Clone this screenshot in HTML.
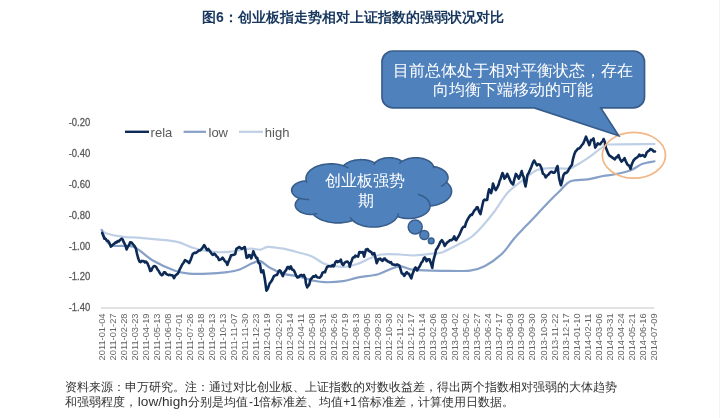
<!DOCTYPE html>
<html><head><meta charset="utf-8"><style>
html,body{margin:0;padding:0;background:#fff;width:720px;height:418px;overflow:hidden}
svg{display:block;will-change:transform;opacity:0.999}
text{font-family:"Liberation Sans", sans-serif}
</style></head><body>
<svg width="720" height="418" viewBox="0 0 720 418">
<rect width="720" height="418" fill="#fff"/>
<rect x="719" y="0" width="1" height="418" fill="#f4f4f4"/>

<text x="353" y="22" text-anchor="middle" font-size="14" font-weight="bold" fill="#17375e">图6：创业板指走势相对上证指数的强弱状况对比</text>
<g font-size="9.5" fill="#595959"><text transform="translate(90.3,126.1) scale(1,1.12)" text-anchor="end" stroke="#595959" stroke-width="0.25">-0.20</text><text transform="translate(90.3,157.0) scale(1,1.12)" text-anchor="end" stroke="#595959" stroke-width="0.25">-0.40</text><text transform="translate(90.3,187.8) scale(1,1.12)" text-anchor="end" stroke="#595959" stroke-width="0.25">-0.60</text><text transform="translate(90.3,218.7) scale(1,1.12)" text-anchor="end" stroke="#595959" stroke-width="0.25">-0.80</text><text transform="translate(90.3,249.5) scale(1,1.12)" text-anchor="end" stroke="#595959" stroke-width="0.25">-1.00</text><text transform="translate(90.3,280.4) scale(1,1.12)" text-anchor="end" stroke="#595959" stroke-width="0.25">-1.20</text><text transform="translate(90.3,311.2) scale(1,1.12)" text-anchor="end" stroke="#595959" stroke-width="0.25">-1.40</text></g>
<line x1="101" y1="308" x2="654.5" y2="308" stroke="#d9d9d9" stroke-width="1.5"/>
<g font-size="9" fill="#656565"><text transform="translate(101.7,313.5) rotate(-90)" x="0" y="3.1" text-anchor="end" textLength="47" lengthAdjust="spacingAndGlyphs">2011-01-04</text><text transform="translate(112.7,313.5) rotate(-90)" x="0" y="3.1" text-anchor="end" textLength="47" lengthAdjust="spacingAndGlyphs">2011-01-27</text><text transform="translate(123.8,313.5) rotate(-90)" x="0" y="3.1" text-anchor="end" textLength="47" lengthAdjust="spacingAndGlyphs">2011-02-28</text><text transform="translate(134.8,313.5) rotate(-90)" x="0" y="3.1" text-anchor="end" textLength="47" lengthAdjust="spacingAndGlyphs">2011-03-23</text><text transform="translate(145.9,313.5) rotate(-90)" x="0" y="3.1" text-anchor="end" textLength="47" lengthAdjust="spacingAndGlyphs">2011-04-19</text><text transform="translate(156.9,313.5) rotate(-90)" x="0" y="3.1" text-anchor="end" textLength="47" lengthAdjust="spacingAndGlyphs">2011-05-13</text><text transform="translate(168.0,313.5) rotate(-90)" x="0" y="3.1" text-anchor="end" textLength="47" lengthAdjust="spacingAndGlyphs">2011-06-08</text><text transform="translate(179.0,313.5) rotate(-90)" x="0" y="3.1" text-anchor="end" textLength="47" lengthAdjust="spacingAndGlyphs">2011-07-01</text><text transform="translate(190.0,313.5) rotate(-90)" x="0" y="3.1" text-anchor="end" textLength="47" lengthAdjust="spacingAndGlyphs">2011-07-26</text><text transform="translate(201.1,313.5) rotate(-90)" x="0" y="3.1" text-anchor="end" textLength="47" lengthAdjust="spacingAndGlyphs">2011-08-18</text><text transform="translate(212.1,313.5) rotate(-90)" x="0" y="3.1" text-anchor="end" textLength="47" lengthAdjust="spacingAndGlyphs">2011-09-13</text><text transform="translate(223.2,313.5) rotate(-90)" x="0" y="3.1" text-anchor="end" textLength="47" lengthAdjust="spacingAndGlyphs">2011-10-13</text><text transform="translate(234.2,313.5) rotate(-90)" x="0" y="3.1" text-anchor="end" textLength="47" lengthAdjust="spacingAndGlyphs">2011-11-07</text><text transform="translate(245.2,313.5) rotate(-90)" x="0" y="3.1" text-anchor="end" textLength="47" lengthAdjust="spacingAndGlyphs">2011-11-30</text><text transform="translate(256.3,313.5) rotate(-90)" x="0" y="3.1" text-anchor="end" textLength="47" lengthAdjust="spacingAndGlyphs">2011-12-23</text><text transform="translate(267.3,313.5) rotate(-90)" x="0" y="3.1" text-anchor="end" textLength="47" lengthAdjust="spacingAndGlyphs">2012-01-19</text><text transform="translate(278.4,313.5) rotate(-90)" x="0" y="3.1" text-anchor="end" textLength="47" lengthAdjust="spacingAndGlyphs">2012-02-20</text><text transform="translate(289.4,313.5) rotate(-90)" x="0" y="3.1" text-anchor="end" textLength="47" lengthAdjust="spacingAndGlyphs">2012-03-14</text><text transform="translate(300.5,313.5) rotate(-90)" x="0" y="3.1" text-anchor="end" textLength="47" lengthAdjust="spacingAndGlyphs">2012-04-11</text><text transform="translate(311.5,313.5) rotate(-90)" x="0" y="3.1" text-anchor="end" textLength="47" lengthAdjust="spacingAndGlyphs">2012-05-08</text><text transform="translate(322.5,313.5) rotate(-90)" x="0" y="3.1" text-anchor="end" textLength="47" lengthAdjust="spacingAndGlyphs">2012-05-31</text><text transform="translate(333.6,313.5) rotate(-90)" x="0" y="3.1" text-anchor="end" textLength="47" lengthAdjust="spacingAndGlyphs">2012-06-26</text><text transform="translate(344.6,313.5) rotate(-90)" x="0" y="3.1" text-anchor="end" textLength="47" lengthAdjust="spacingAndGlyphs">2012-07-19</text><text transform="translate(355.7,313.5) rotate(-90)" x="0" y="3.1" text-anchor="end" textLength="47" lengthAdjust="spacingAndGlyphs">2012-08-13</text><text transform="translate(366.7,313.5) rotate(-90)" x="0" y="3.1" text-anchor="end" textLength="47" lengthAdjust="spacingAndGlyphs">2012-09-05</text><text transform="translate(377.7,313.5) rotate(-90)" x="0" y="3.1" text-anchor="end" textLength="47" lengthAdjust="spacingAndGlyphs">2012-09-28</text><text transform="translate(388.8,313.5) rotate(-90)" x="0" y="3.1" text-anchor="end" textLength="47" lengthAdjust="spacingAndGlyphs">2012-10-30</text><text transform="translate(399.8,313.5) rotate(-90)" x="0" y="3.1" text-anchor="end" textLength="47" lengthAdjust="spacingAndGlyphs">2012-11-22</text><text transform="translate(410.9,313.5) rotate(-90)" x="0" y="3.1" text-anchor="end" textLength="47" lengthAdjust="spacingAndGlyphs">2012-12-17</text><text transform="translate(421.9,313.5) rotate(-90)" x="0" y="3.1" text-anchor="end" textLength="47" lengthAdjust="spacingAndGlyphs">2013-01-14</text><text transform="translate(433.0,313.5) rotate(-90)" x="0" y="3.1" text-anchor="end" textLength="47" lengthAdjust="spacingAndGlyphs">2013-02-06</text><text transform="translate(444.0,313.5) rotate(-90)" x="0" y="3.1" text-anchor="end" textLength="47" lengthAdjust="spacingAndGlyphs">2013-03-08</text><text transform="translate(455.0,313.5) rotate(-90)" x="0" y="3.1" text-anchor="end" textLength="47" lengthAdjust="spacingAndGlyphs">2013-04-02</text><text transform="translate(466.1,313.5) rotate(-90)" x="0" y="3.1" text-anchor="end" textLength="47" lengthAdjust="spacingAndGlyphs">2013-05-02</text><text transform="translate(477.1,313.5) rotate(-90)" x="0" y="3.1" text-anchor="end" textLength="47" lengthAdjust="spacingAndGlyphs">2013-05-27</text><text transform="translate(488.2,313.5) rotate(-90)" x="0" y="3.1" text-anchor="end" textLength="47" lengthAdjust="spacingAndGlyphs">2013-06-24</text><text transform="translate(499.2,313.5) rotate(-90)" x="0" y="3.1" text-anchor="end" textLength="47" lengthAdjust="spacingAndGlyphs">2013-07-17</text><text transform="translate(510.3,313.5) rotate(-90)" x="0" y="3.1" text-anchor="end" textLength="47" lengthAdjust="spacingAndGlyphs">2013-08-09</text><text transform="translate(521.3,313.5) rotate(-90)" x="0" y="3.1" text-anchor="end" textLength="47" lengthAdjust="spacingAndGlyphs">2013-09-03</text><text transform="translate(532.3,313.5) rotate(-90)" x="0" y="3.1" text-anchor="end" textLength="47" lengthAdjust="spacingAndGlyphs">2013-09-30</text><text transform="translate(543.4,313.5) rotate(-90)" x="0" y="3.1" text-anchor="end" textLength="47" lengthAdjust="spacingAndGlyphs">2013-10-30</text><text transform="translate(554.4,313.5) rotate(-90)" x="0" y="3.1" text-anchor="end" textLength="47" lengthAdjust="spacingAndGlyphs">2013-11-22</text><text transform="translate(565.5,313.5) rotate(-90)" x="0" y="3.1" text-anchor="end" textLength="47" lengthAdjust="spacingAndGlyphs">2013-12-17</text><text transform="translate(576.5,313.5) rotate(-90)" x="0" y="3.1" text-anchor="end" textLength="47" lengthAdjust="spacingAndGlyphs">2014-01-10</text><text transform="translate(587.5,313.5) rotate(-90)" x="0" y="3.1" text-anchor="end" textLength="47" lengthAdjust="spacingAndGlyphs">2014-02-11</text><text transform="translate(598.6,313.5) rotate(-90)" x="0" y="3.1" text-anchor="end" textLength="47" lengthAdjust="spacingAndGlyphs">2014-03-06</text><text transform="translate(609.6,313.5) rotate(-90)" x="0" y="3.1" text-anchor="end" textLength="47" lengthAdjust="spacingAndGlyphs">2014-03-31</text><text transform="translate(620.7,313.5) rotate(-90)" x="0" y="3.1" text-anchor="end" textLength="47" lengthAdjust="spacingAndGlyphs">2014-04-24</text><text transform="translate(631.7,313.5) rotate(-90)" x="0" y="3.1" text-anchor="end" textLength="47" lengthAdjust="spacingAndGlyphs">2014-05-21</text><text transform="translate(642.8,313.5) rotate(-90)" x="0" y="3.1" text-anchor="end" textLength="47" lengthAdjust="spacingAndGlyphs">2014-06-16</text><text transform="translate(653.8,313.5) rotate(-90)" x="0" y="3.1" text-anchor="end" textLength="47" lengthAdjust="spacingAndGlyphs">2014-07-09</text></g>
<g fill="none" stroke-linejoin="round" stroke-linecap="round">
<path d="M101.7,230.0 C102.4,230.5 102.7,232.1 106.0,233.2 C109.3,234.3 115.7,235.8 121.8,236.6 C127.9,237.4 133.9,237.4 142.8,238.2 C151.7,239.0 166.6,239.8 175.0,241.4 C183.4,243.0 188.1,246.3 193.0,247.8 C197.9,249.3 200.3,249.9 204.4,250.6 C208.5,251.3 213.3,252.0 217.8,252.2 C222.3,252.4 225.8,252.2 231.2,251.6 C236.6,251.0 245.2,249.0 250.0,248.7 C254.8,248.4 257.3,250.0 260.3,249.7 C263.3,249.4 264.2,247.0 268.0,246.8 C271.8,246.6 278.2,247.8 283.3,248.7 C288.4,249.6 293.8,251.2 298.6,252.5 C303.4,253.8 307.6,254.5 312.0,256.4 C316.4,258.3 319.8,262.2 325.0,264.0 C330.2,265.8 337.4,267.0 343.0,266.9 C348.6,266.8 353.8,265.0 358.3,263.6 C362.8,262.2 366.0,259.8 369.8,258.3 C373.6,256.8 376.2,255.1 381.2,254.5 C386.2,253.9 394.5,254.3 400.0,254.5 C405.5,254.7 408.6,255.7 414.1,255.5 C419.7,255.3 428.4,254.2 433.3,253.6 C438.2,253.0 438.5,253.8 443.3,251.9 C448.1,250.1 457.2,245.1 462.0,242.5 C466.8,239.9 468.5,239.3 472.0,236.5 C475.5,233.7 479.3,229.7 483.0,225.5 C486.7,221.3 490.2,217.1 494.4,211.5 C498.6,205.9 503.4,197.4 508.3,192.1 C513.2,186.8 518.8,183.4 523.6,179.7 C528.4,176.0 532.6,172.0 537.0,170.1 C541.4,168.2 544.7,168.5 550.0,168.2 C555.3,167.9 564.5,168.9 568.7,168.5 C572.9,168.1 571.8,167.8 575.1,166.0 C578.4,164.2 584.0,160.8 588.5,157.7 C593.0,154.6 598.5,149.8 601.9,147.6 C605.3,145.4 600.1,145.1 608.9,144.5 C617.7,143.9 646.9,144.1 654.5,144.0" stroke="#bfd0e6" stroke-width="2.2"/>
<path d="M101.7,230.0 C103.1,232.5 105.0,242.1 110.3,244.9 C115.6,247.7 126.3,244.2 133.3,246.8 C140.3,249.4 145.5,256.2 152.4,260.2 C159.3,264.2 168.9,268.5 175.0,270.7 C181.1,272.9 183.5,273.1 189.1,273.6 C194.7,274.1 201.9,273.9 208.3,273.6 C214.7,273.4 222.3,272.7 227.4,272.1 C232.5,271.5 234.7,271.3 238.9,269.8 C243.1,268.3 249.1,264.6 252.7,263.1 C256.3,261.7 257.4,260.3 260.3,261.1 C263.2,261.9 266.1,265.7 269.9,267.8 C273.7,269.9 278.5,272.2 283.3,273.6 C288.1,275.1 293.8,275.4 298.6,276.5 C303.4,277.6 307.6,279.4 312.0,280.3 C316.4,281.2 319.8,282.1 325.0,282.2 C330.2,282.3 337.4,282.0 343.0,281.2 C348.6,280.4 352.6,278.5 358.3,277.4 C364.0,276.3 372.3,275.8 377.4,274.5 C382.5,273.2 385.1,271.2 388.9,269.8 C392.7,268.4 395.8,266.3 400.0,266.3 C404.2,266.3 407.0,269.1 414.1,269.9 C421.2,270.6 433.5,270.7 442.8,270.8 C452.1,270.9 463.0,271.4 470.0,270.6 C477.0,269.8 479.6,268.7 485.0,265.9 C490.4,263.1 497.3,258.1 502.1,253.6 C506.9,249.2 509.8,243.7 513.6,239.2 C517.4,234.7 521.2,230.9 525.1,226.8 C529.0,222.7 533.1,218.6 537.0,214.5 C540.9,210.4 544.8,206.0 548.6,202.0 C552.4,198.0 556.3,194.2 560.0,190.7 C563.7,187.2 566.0,183.1 570.6,181.2 C575.2,179.3 582.4,180.2 587.8,179.3 C593.2,178.4 598.9,176.8 603.2,176.0 C607.5,175.2 609.0,175.4 613.5,174.5 C618.0,173.6 625.5,172.2 630.3,170.5 C635.0,168.8 638.0,165.5 642.0,164.0 C646.0,162.5 652.4,161.8 654.5,161.3" stroke="#86a0c7" stroke-width="2.2"/>
<path d="M102.2,232.9 L103.2,235.4 L104.3,238.6 L105.5,238.6 L106.7,240.4 L107.9,240.8 L109.3,242.8 L110.8,246.6 L112.0,245.7 L113.2,244.4 L114.4,243.7 L115.5,242.2 L116.6,242.6 L117.6,241.0 L118.7,241.5 L120.2,239.9 L121.6,238.6 L122.7,239.5 L123.7,242.2 L125.2,244.9 L126.6,249.4 L127.8,246.8 L129.0,245.3 L130.2,242.2 L131.6,242.5 L133.0,244.4 L134.4,245.9 L135.9,248.7 L137.0,253.6 L138.1,258.0 L139.5,261.6 L140.6,262.2 L141.7,260.9 L142.8,261.2 L143.8,261.0 L144.9,262.5 L146.0,261.6 L147.4,263.2 L148.9,266.7 L150.3,271.0 L151.4,270.5 L152.4,268.0 L153.5,266.5 L154.6,266.0 L156.1,266.9 L157.5,269.5 L158.9,271.3 L160.3,273.9 L161.8,275.3 L162.9,274.5 L163.9,272.4 L165.1,272.4 L166.3,274.0 L167.5,274.6 L168.6,275.1 L169.7,274.7 L170.7,275.2 L171.8,275.3 L172.9,275.8 L174.0,278.2 L175.2,275.8 L176.4,274.7 L177.6,273.9 L178.7,272.1 L179.7,269.3 L180.8,267.3 L182.2,264.5 L183.6,262.7 L185.0,260.1 L186.4,261.0 L187.7,261.7 L189.1,263.1 L190.3,260.7 L191.5,257.5 L192.7,254.1 L194.2,252.9 L195.7,252.9 L196.9,252.2 L198.1,251.1 L199.2,250.4 L200.2,250.5 L201.2,249.4 L202.3,248.2 L204.1,245.2 L205.0,246.2 L205.9,248.2 L207.1,250.1 L208.3,249.0 L209.5,250.6 L210.7,252.2 L211.9,254.1 L213.1,254.9 L214.3,253.7 L215.5,254.7 L216.7,256.5 L217.8,257.3 L219.0,260.1 L220.2,259.7 L221.4,259.1 L222.6,257.7 L223.8,259.3 L225.0,261.3 L226.2,261.9 L227.4,264.9 L228.6,261.3 L229.8,258.9 L231.0,255.3 L232.4,255.1 L233.8,254.7 L235.2,254.1 L236.4,248.8 L237.9,247.8 L239.4,247.0 L240.6,248.1 L241.8,248.8 L243.0,248.2 L243.9,247.5 L244.8,247.0 L246.6,257.7 L247.7,257.3 L248.9,255.1 L250.0,255.3 L251.3,258.4 L252.3,255.2 L253.3,251.2 L254.3,253.8 L255.3,255.8 L256.2,257.9 L257.2,257.8 L258.6,263.0 L259.9,263.7 L261.2,272.2 L262.2,272.0 L263.2,270.3 L264.1,275.1 L265.1,280.8 L266.4,290.7 L267.8,288.7 L268.8,285.8 L269.7,283.4 L271.0,281.8 L272.4,279.5 L273.7,276.4 L275.0,275.5 L276.0,275.1 L277.0,274.9 L278.3,271.9 L279.6,270.3 L280.6,271.1 L281.6,273.6 L282.9,276.2 L283.9,272.9 L284.9,271.6 L286.2,269.9 L287.5,267.0 L288.5,267.1 L289.5,268.9 L290.8,266.3 L292.1,269.6 L293.1,269.7 L294.1,270.9 L295.1,273.0 L296.1,275.5 L297.4,277.5 L298.7,277.3 L300.0,275.5 L301.3,274.9 L302.6,276.2 L303.9,274.9 L305.3,278.2 L305.9,283.4 L307.2,287.4 L308.2,285.9 L309.2,284.7 L310.5,279.5 L311.9,278.0 L313.2,276.2 L314.5,276.7 L315.8,275.5 L317.1,277.2 L318.4,277.5 L319.8,277.7 L321.1,276.2 L322.4,272.9 L323.7,272.1 L325.0,272.2 L326.0,269.4 L327.0,267.0 L328.5,266.3 L330.0,266.3 L331.2,266.5 L332.4,265.1 L333.3,266.4 L334.2,265.7 L335.1,262.8 L336.0,261.5 L336.9,261.1 L337.8,262.1 L338.7,261.2 L339.6,261.5 L340.8,259.7 L342.0,263.9 L343.2,265.1 L344.4,263.0 L345.6,262.1 L347.3,261.5 L348.2,262.4 L349.1,263.3 L349.7,266.9 L350.9,262.7 L351.8,260.5 L352.7,257.9 L353.6,257.1 L354.5,257.3 L355.4,255.6 L356.3,256.1 L357.2,256.2 L358.1,256.7 L359.3,252.0 L360.2,252.0 L361.1,252.6 L362.9,252.0 L364.1,256.7 L365.9,249.6 L366.8,249.4 L367.7,249.0 L368.6,250.9 L369.5,250.8 L370.4,251.8 L371.3,252.0 L372.5,254.4 L373.4,253.8 L374.3,253.2 L375.5,257.9 L376.7,263.3 L378.4,259.1 L379.3,259.1 L380.2,258.5 L381.4,260.1 L382.6,260.9 L383.8,258.7 L385.0,258.5 L385.9,260.3 L386.8,260.3 L387.7,261.5 L388.6,261.5 L389.8,262.6 L391.0,262.1 L391.9,264.0 L392.8,264.5 L394.0,264.6 L395.2,265.1 L396.4,264.6 L397.6,264.5 L399.4,265.7 L400.6,269.3 L401.8,273.5 L403.0,273.8 L404.2,275.9 L405.1,274.7 L406.0,272.9 L406.9,272.2 L407.8,273.5 L408.9,273.7 L410.0,275.9 L411.3,278.3 L412.5,274.1 L413.7,271.1 L414.6,268.6 L415.5,267.5 L417.2,270.5 L418.5,267.9 L419.9,266.0 L421.4,262.6 L422.8,261.2 L423.8,258.2 L424.7,257.4 L425.6,258.5 L426.6,261.2 L428.0,259.4 L429.4,259.3 L430.9,263.3 L432.3,267.9 L433.2,261.6 L434.2,257.4 L435.1,254.4 L436.1,249.8 L437.6,247.7 L439.0,245.0 L440.4,241.8 L441.9,240.2 L443.4,242.5 L444.8,245.9 L446.2,243.7 L447.6,242.1 L448.9,241.2 L450.2,240.0 L451.5,240.2 L452.9,239.1 L454.3,236.4 L455.2,239.4 L456.2,240.2 L457.6,237.7 L459.1,235.4 L460.6,232.0 L462.0,228.7 L463.4,226.8 L464.9,226.8 L465.9,223.1 L466.8,221.1 L468.2,218.4 L469.6,216.3 L470.7,214.7 L471.8,215.0 L472.9,213.2 L474.3,210.5 L475.7,209.3 L476.7,207.3 L477.7,207.4 L479.1,211.7 L480.5,214.1 L481.9,207.5 L483.4,200.7 L484.7,199.6 L485.9,200.2 L487.2,199.8 L488.1,193.5 L489.1,189.2 L490.1,191.2 L491.1,193.1 L492.1,189.4 L493.0,183.5 L494.4,187.6 L495.8,190.2 L497.2,187.7 L498.7,184.4 L499.6,181.0 L500.6,178.7 L501.6,175.6 L502.5,173.0 L503.4,175.1 L504.4,178.7 L505.9,176.9 L507.3,173.9 L508.8,177.3 L510.2,180.6 L511.6,183.1 L513.1,184.4 L514.5,178.8 L515.9,173.9 L517.3,175.7 L518.8,178.7 L520.2,175.6 L521.7,171.1 L522.7,175.0 L523.6,176.8 L524.5,182.4 L525.5,186.4 L526.5,181.3 L527.4,174.9 L528.7,173.0 L529.9,170.3 L531.2,167.2 L532.7,163.2 L534.1,160.5 L535.5,162.9 L537.0,165.3 L538.0,164.5 L538.9,164.4 L540.0,165.0 L541.5,168.3 L542.9,173.6 L544.3,174.5 L545.7,177.4 L547.2,175.5 L548.6,174.5 L550.0,172.6 L551.5,171.7 L553.0,172.6 L554.4,172.6 L555.4,171.4 L556.5,168.1 L557.5,166.0 L559.2,178.6 L560.9,185.3 L562.1,181.3 L563.4,175.3 L565.1,172.7 L566.2,172.9 L567.3,172.0 L568.4,170.2 L569.5,168.2 L570.7,166.3 L571.8,165.2 L573.0,159.1 L574.3,154.3 L575.5,151.5 L576.8,150.1 L578.0,148.6 L579.3,148.5 L580.5,147.1 L581.8,145.1 L583.0,143.9 L584.3,140.9 L586.0,136.7 L587.7,140.9 L589.3,145.1 L591.0,140.1 L592.2,140.0 L593.5,138.4 L595.2,147.6 L596.5,145.5 L597.7,143.4 L599.0,144.2 L600.2,144.3 L601.8,141.9 L602.7,141.1 L603.6,139.0 L604.8,141.9 L606.0,147.9 L607.2,150.9 L608.4,153.9 L609.6,155.7 L611.4,156.9 L613.1,158.1 L614.9,159.3 L615.8,157.5 L616.7,157.5 L618.5,155.1 L619.7,158.7 L621.5,161.7 L623.3,159.9 L624.5,158.1 L625.7,161.1 L627.5,164.6 L629.3,165.8 L630.5,168.8 L631.7,164.6 L633.5,160.5 L635.2,158.7 L637.0,157.5 L638.2,156.4 L639.4,154.5 L640.3,156.0 L641.2,155.7 L643.0,155.1 L644.8,156.9 L645.7,155.4 L646.6,152.7 L648.4,150.9 L649.3,150.6 L650.2,149.1 L652.0,149.7 L653.8,151.5 L655.0,151.5" stroke="#0c2a55" stroke-width="2.6"/>
</g>
<g font-size="13" fill="#595959">
<line x1="125" y1="131.8" x2="149" y2="131.8" stroke="#0c2a55" stroke-width="2.4"/>
<text x="150.6" y="136.5">rela</text>
<line x1="183.6" y1="131.8" x2="206" y2="131.8" stroke="#86a0c7" stroke-width="2.2"/>
<text x="208.5" y="136.5">low</text>
<line x1="239" y1="131.8" x2="263" y2="131.8" stroke="#bfd0e6" stroke-width="2.2"/>
<text x="264.8" y="136.5">high</text>
</g>
<ellipse cx="633.9" cy="155.3" rx="31.6" ry="22.9" fill="none" stroke="#f2b888" stroke-width="1.8"/>
<path d="M393,51 H633.5 A11,11 0 0 1 644.5,62 V96.9 A11,11 0 0 1 633.5,107.9 H600.8 L618.7,135.8 L534.2,107.9 H393 A11,11 0 0 1 382,96.9 V62 A11,11 0 0 1 393,51 Z" fill="#4f81bd" stroke="#385d8a" stroke-width="1.7"/>
<g font-size="16" fill="#fff" text-anchor="middle">
<text x="513" y="75.5">目前总体处于相对平衡状态，存在</text>
<text x="513" y="95.3">向均衡下端移动的可能</text>
</g>
<path d="M306.22,180.55 L306.07,179.77 L306.00,178.99 L306.00,178.21 L306.06,177.43 L306.20,176.64 L306.41,175.86 L306.70,175.07 L307.07,174.27 L307.53,173.46 L308.08,172.66 L308.74,171.84 L309.51,171.02 L310.40,170.20 L311.42,169.39 L312.59,168.58 L313.91,167.79 L315.40,167.03 L317.06,166.32 L318.88,165.66 L320.87,165.08 L323.02,164.59 L325.29,164.21 L327.66,163.95 L330.09,163.83 L332.53,163.85 L334.95,164.01 L337.29,164.31 L339.53,164.72 L341.63,165.24 L343.57,165.84 L344.02,165.37 L344.52,164.90 L345.07,164.43 L345.68,163.97 L346.35,163.50 L347.09,163.05 L347.89,162.60 L348.76,162.17 L349.70,161.75 L350.72,161.36 L351.80,161.00 L352.95,160.67 L354.17,160.37 L355.44,160.13 L356.77,159.93 L358.13,159.78 L359.52,159.69 L360.92,159.66 L362.32,159.68 L363.72,159.77 L365.08,159.91 L366.41,160.11 L367.69,160.35 L368.91,160.64 L370.07,160.97 L371.16,161.33 L372.18,161.72 L373.13,162.13 L374.01,162.56 L374.81,163.01 L375.20,162.58 L375.63,162.15 L376.12,161.73 L376.66,161.30 L377.26,160.88 L377.93,160.47 L378.67,160.06 L379.48,159.68 L380.36,159.31 L381.31,158.96 L382.33,158.65 L383.41,158.37 L384.56,158.14 L385.75,157.95 L386.99,157.82 L388.25,157.74 L389.52,157.73 L390.79,157.77 L392.05,157.87 L393.27,158.03 L394.44,158.23 L395.56,158.48 L396.62,158.78 L397.61,159.10 L398.53,159.46 L399.38,159.84 L400.16,160.23 L400.87,160.64 L401.51,161.06 L402.09,161.48 L402.92,160.94 L403.86,160.41 L404.91,159.90 L406.07,159.42 L407.33,158.99 L408.70,158.60 L410.17,158.27 L411.71,158.02 L413.32,157.84 L414.97,157.75 L416.63,157.75 L418.28,157.84 L419.89,158.02 L421.43,158.28 L422.90,158.61 L424.26,159.00 L425.53,159.43 L426.68,159.91 L427.73,160.42 L428.66,160.95 L429.50,161.49 L430.24,162.05 L430.89,162.60 L431.46,163.16 L431.95,163.72 L432.37,164.27 L432.72,164.82 L433.02,165.36 L433.26,165.91 L433.45,166.44 L435.01,166.74 L436.48,167.09 L437.86,167.51 L439.13,167.97 L440.30,168.46 L441.37,168.98 L442.34,169.52 L443.20,170.08 L443.97,170.65 L444.66,171.22 L445.27,171.79 L445.80,172.36 L446.26,172.93 L446.66,173.49 L447.00,174.05 L447.28,174.61 L447.51,175.16 L447.70,175.71 L447.84,176.26 L447.93,176.80 L447.98,177.35 L447.99,177.89 L447.95,178.43 L447.87,178.97 L447.75,179.52 L447.58,180.07 L447.36,180.62 L447.09,181.18 L446.77,181.74 L446.39,182.30 L447.43,183.16 L448.33,184.03 L449.09,184.89 L449.74,185.75 L450.27,186.60 L450.71,187.45 L451.05,188.28 L451.30,189.12 L451.47,189.94 L451.56,190.77 L451.57,191.59 L451.50,192.42 L451.36,193.24 L451.13,194.08 L450.82,194.91 L450.42,195.75 L449.92,196.60 L449.31,197.46 L448.58,198.32 L447.73,199.19 L446.73,200.05 L445.58,200.91 L444.27,201.75 L442.77,202.57 L441.09,203.34 L439.22,204.06 L437.17,204.70 L434.94,205.24 L432.57,205.66 L430.07,205.95 L430.04,206.57 L429.96,207.18 L429.82,207.80 L429.63,208.43 L429.38,209.05 L429.07,209.68 L428.69,210.32 L428.25,210.96 L427.73,211.60 L427.13,212.24 L426.44,212.89 L425.65,213.54 L424.76,214.17 L423.76,214.80 L422.65,215.41 L421.41,215.99 L420.05,216.54 L418.57,217.04 L416.97,217.49 L415.26,217.86 L413.46,218.15 L411.59,218.35 L409.68,218.46 L407.75,218.46 L405.84,218.36 L403.97,218.16 L402.17,217.87 L400.46,217.50 L398.85,217.05 L397.36,216.55 L396.95,217.30 L396.45,218.06 L395.86,218.81 L395.17,219.58 L394.39,220.34 L393.49,221.10 L392.47,221.86 L391.32,222.61 L390.03,223.33 L388.60,224.03 L387.01,224.69 L385.28,225.29 L383.41,225.83 L381.41,226.29 L379.29,226.65 L377.09,226.90 L374.83,227.03 L372.55,227.04 L370.28,226.93 L368.07,226.70 L365.93,226.36 L363.91,225.92 L362.01,225.40 L360.25,224.81 L358.64,224.16 L357.18,223.47 L355.87,222.75 L354.69,222.00 L353.65,221.25 L352.72,220.49 L351.40,220.93 L350.00,221.34 L348.54,221.71 L347.01,222.04 L345.43,222.32 L343.80,222.55 L342.14,222.73 L340.44,222.84 L338.73,222.90 L337.01,222.89 L335.31,222.83 L333.62,222.70 L331.95,222.52 L330.33,222.28 L328.76,221.99 L327.25,221.65 L325.79,221.27 L324.41,220.86 L323.10,220.41 L321.86,219.93 L320.69,219.43 L319.59,218.91 L318.57,218.37 L317.62,217.82 L316.74,217.26 L315.92,216.69 L315.17,216.12 L314.48,215.55 L313.84,214.97 L313.26,214.40 L311.40,214.46 L309.54,214.40 L307.73,214.22 L306.00,213.92 L304.39,213.53 L302.93,213.05 L301.62,212.52 L300.46,211.95 L299.44,211.35 L298.57,210.73 L297.83,210.11 L297.20,209.48 L296.68,208.86 L296.25,208.24 L295.91,207.63 L295.64,207.02 L295.45,206.41 L295.33,205.81 L295.27,205.22 L295.27,204.62 L295.34,204.02 L295.48,203.42 L295.68,202.82 L295.96,202.21 L296.32,201.59 L296.76,200.97 L297.30,200.35 L297.95,199.72 L298.72,199.10 L299.61,198.48 L298.21,197.94 L296.98,197.34 L295.92,196.72 L295.00,196.07 L294.23,195.42 L293.58,194.77 L293.05,194.12 L292.61,193.48 L292.27,192.84 L292.01,192.21 L291.82,191.58 L291.71,190.96 L291.67,190.34 L291.69,189.73 L291.78,189.10 L291.95,188.48 L292.19,187.85 L292.50,187.22 L292.91,186.58 L293.42,185.93 L294.03,185.28 L294.77,184.62 L295.64,183.98 L296.66,183.34 L297.84,182.74 L299.19,182.18 L300.71,181.68 L302.38,181.26 L304.18,180.95 L306.08,180.77Z" fill="#4f81bd" stroke="#385d8a" stroke-width="1.6"/>
<path d="M309.15,199.49 L308.31,199.52 L307.46,199.52 L306.62,199.49 L305.78,199.44 L304.96,199.36 L304.15,199.26 L303.36,199.13 L302.59,198.98 L301.85,198.82 L301.13,198.63 L300.44,198.43 L299.78,198.21 M317.41,213.48 L317.09,213.56 L316.77,213.63 L316.44,213.69 L316.11,213.75 L315.77,213.81 L315.43,213.86 L315.08,213.91 L314.73,213.96 L314.38,214.00 L314.03,214.04 L313.67,214.07 L313.31,214.10 M352.72,220.21 L352.46,219.97 L352.21,219.74 L351.97,219.51 L351.74,219.27 L351.52,219.04 L351.32,218.81 L351.12,218.57 L350.93,218.34 L350.74,218.11 L350.57,217.88 L350.40,217.65 L350.25,217.42 M398.37,213.25 L398.33,213.50 L398.28,213.75 L398.23,214.01 L398.17,214.26 L398.10,214.51 L398.02,214.77 L397.93,215.02 L397.84,215.28 L397.74,215.54 L397.63,215.79 L397.51,216.05 L397.38,216.31 M417.97,194.32 L420.28,195.10 L422.30,195.98 L424.02,196.93 L425.47,197.91 L426.67,198.91 L427.64,199.92 L428.41,200.92 L429.01,201.90 L429.46,202.88 L429.76,203.85 L429.94,204.81 L429.99,205.77 M446.32,182.13 L446.04,182.49 L445.74,182.85 L445.42,183.22 L445.06,183.58 L444.67,183.94 L444.25,184.31 L443.80,184.67 L443.31,185.03 L442.78,185.38 L442.22,185.74 L441.61,186.08 L440.97,186.42 M433.47,166.20 L433.52,166.37 L433.57,166.54 L433.61,166.71 L433.64,166.88 L433.67,167.05 L433.70,167.22 L433.72,167.39 L433.74,167.56 L433.75,167.73 L433.76,167.89 L433.76,168.06 L433.76,168.23 M399.29,163.84 L399.46,163.62 L399.63,163.41 L399.82,163.19 L400.02,162.98 L400.23,162.76 L400.45,162.55 L400.68,162.33 L400.92,162.11 L401.18,161.90 L401.45,161.68 L401.74,161.47 L402.04,161.25 M373.65,165.07 L373.72,164.89 L373.80,164.71 L373.88,164.52 L373.97,164.34 L374.07,164.15 L374.18,163.97 L374.29,163.78 L374.41,163.59 L374.54,163.41 L374.68,163.22 L374.82,163.03 L374.98,162.84 M343.55,165.83 L344.01,165.99 L344.46,166.16 L344.90,166.33 L345.32,166.50 L345.74,166.68 L346.15,166.86 L346.54,167.04 L346.93,167.23 L347.30,167.42 L347.66,167.61 L348.02,167.80 L348.36,167.99 M307.06,182.83 L306.96,182.64 L306.87,182.45 L306.78,182.25 L306.70,182.06 L306.63,181.87 L306.56,181.68 L306.49,181.50 L306.43,181.31 L306.37,181.12 L306.31,180.93 L306.26,180.74 L306.22,180.55 " fill="none" stroke="#385d8a" stroke-width="1.5"/>
<circle cx="415.2" cy="227" r="7" fill="#4f81bd" stroke="#385d8a" stroke-width="1.5"/>
<circle cx="424.3" cy="235" r="4.5" fill="#4f81bd" stroke="#385d8a" stroke-width="1.5"/>
<circle cx="431.2" cy="240.9" r="2.8" fill="#4f81bd" stroke="#385d8a" stroke-width="1.5"/>
<g font-size="16" fill="#fff" text-anchor="middle">
<text x="365" y="186">创业板强势</text>
<text x="365.5" y="206">期</text>
</g>
<g font-size="12" fill="#333">
<text x="65" y="391">资料来源：申万研究。注：通过对比创业板、上证指数的对数收益差，得出两个指数相对强弱的大体趋势</text>
<text y="406"><tspan x="65">和强弱程度，</tspan><tspan x="137.8" textLength="50" lengthAdjust="spacingAndGlyphs">low/high</tspan><tspan x="188.3">分别是均值</tspan><tspan x="248.9">-1</tspan><tspan x="258.9">倍标准差、均值</tspan><tspan x="343.3">+1</tspan><tspan x="358">倍标准差，计算使用日数据。</tspan></text>
</g>
</svg>
</body></html>
